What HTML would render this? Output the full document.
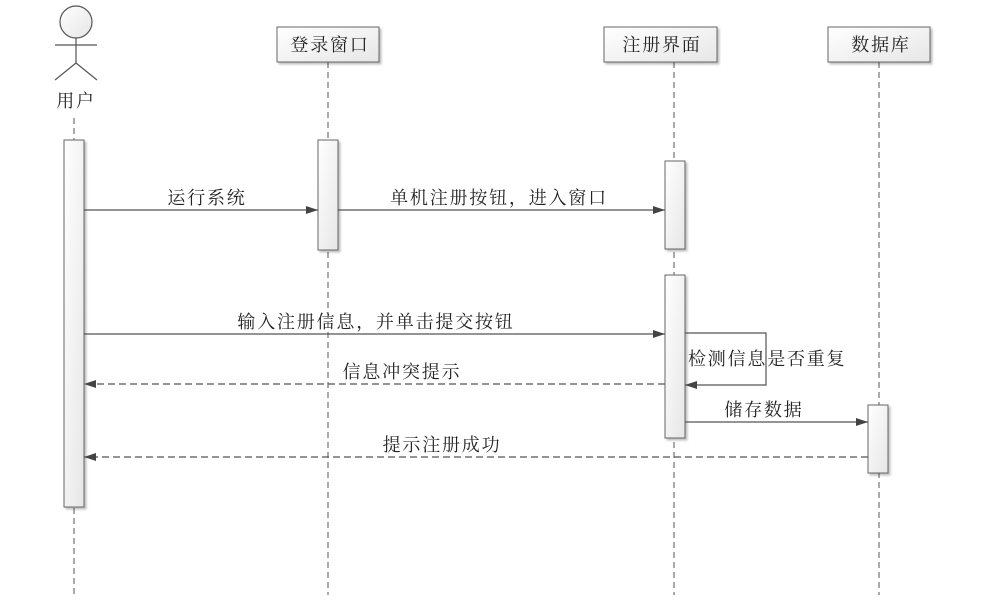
<!DOCTYPE html>
<html><head><meta charset="utf-8"><style>
html,body{margin:0;padding:0;background:#fff;width:1008px;height:600px;overflow:hidden}
text{font-family:"Liberation Serif","Noto Serif CJK SC",serif;font-size:18px;letter-spacing:1.8px;fill:#222}
</style></head><body>
<svg width="1008" height="600" xmlns="http://www.w3.org/2000/svg">
<defs>
<linearGradient id="g" x1="0" y1="0" x2="1" y2="1"><stop offset="0" stop-color="#fff"/><stop offset="1" stop-color="#e6e6e6"/></linearGradient>
<marker id="a" markerWidth="12" markerHeight="8" refX="12" refY="4" orient="auto" markerUnits="userSpaceOnUse"><path d="M0,0 L12,4 L0,8 Z" fill="#444"/></marker>
<filter id="s"><feDropShadow dx="2" dy="2" stdDeviation="1" flood-color="#000" flood-opacity="0.25"/></filter>
</defs>
<g stroke="#555" stroke-width="1" stroke-dasharray="6,4" fill="none">
<line x1="74" y1="118" x2="74" y2="595"/>
<line x1="328" y1="62" x2="328" y2="595"/>
<line x1="674" y1="62" x2="674" y2="595"/>
<line x1="879" y1="62" x2="879" y2="595"/>
</g>
<g stroke="#555" fill="none" stroke-width="1.2">
<circle cx="76" cy="22" r="16" fill="url(#g)"/>
<line x1="55" y1="45" x2="97" y2="45"/>
<line x1="76" y1="38" x2="76" y2="63"/>
<line x1="76" y1="63" x2="55" y2="80"/>
<line x1="76" y1="63" x2="97" y2="80"/>
</g>
<text x="76" y="107" text-anchor="middle">用户</text>
<g stroke="#666" fill="url(#g)" filter="url(#s)">
<rect x="277" y="27" width="102" height="35"/>
<rect x="604" y="27" width="113" height="35"/>
<rect x="828" y="27" width="102" height="35"/>
<rect x="64" y="140" width="20" height="367"/>
<rect x="318" y="140" width="20" height="110"/>
<rect x="665" y="161" width="20" height="88"/>
<rect x="665" y="275" width="20" height="163"/>
<rect x="868" y="405" width="20" height="68"/>
</g>
<text x="330" y="51" text-anchor="middle">登录窗口</text>
<text x="662" y="51" text-anchor="middle">注册界面</text>
<text x="881" y="51" text-anchor="middle">数据库</text>
<g stroke="#555" stroke-width="1.2" fill="none">
<line x1="84" y1="210" x2="318" y2="210" marker-end="url(#a)"/>
<line x1="338" y1="210" x2="665" y2="210" marker-end="url(#a)"/>
<line x1="84" y1="334" x2="665" y2="334" marker-end="url(#a)"/>
<polyline points="685,333 766,333 766,385 685,385" marker-end="url(#a)"/>
<line x1="685" y1="422" x2="868" y2="422" marker-end="url(#a)"/>
<line x1="665" y1="384" x2="84" y2="384" stroke-dasharray="7,4" marker-end="url(#a)"/>
<line x1="868" y1="457" x2="84" y2="457" stroke-dasharray="7,4" marker-end="url(#a)"/>
</g>
<text x="207" y="204" text-anchor="middle">运行系统</text>
<text x="499" y="204" text-anchor="middle">单机注册按钮，进入窗口</text>
<text x="376" y="328" text-anchor="middle">输入注册信息，并单击提交按钮</text>
<text x="688" y="365">检测信息是否重复</text>
<text x="402" y="378" text-anchor="middle">信息冲突提示</text>
<text x="764" y="416" text-anchor="middle">储存数据</text>
<text x="442" y="451" text-anchor="middle">提示注册成功</text>
</svg>
</body></html>
